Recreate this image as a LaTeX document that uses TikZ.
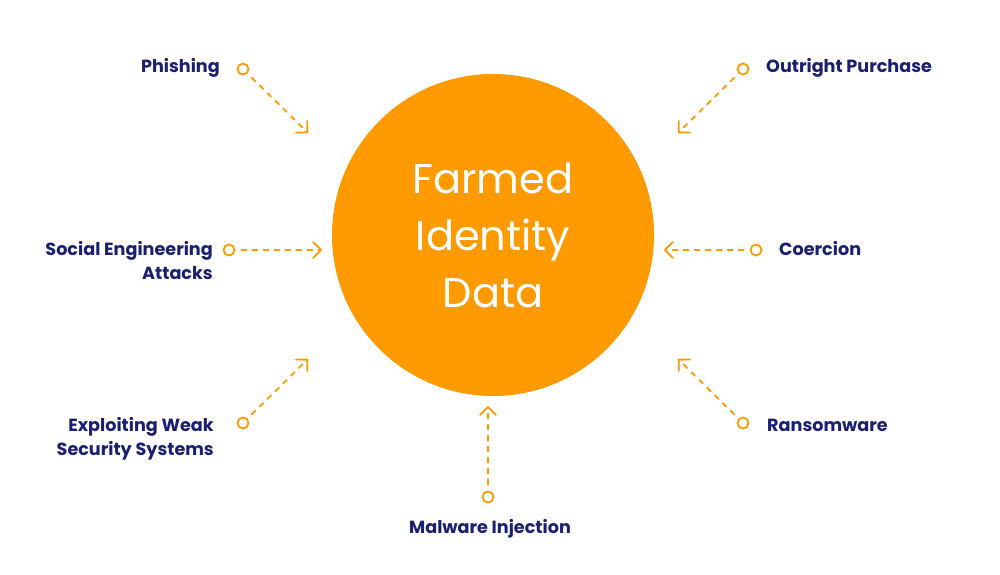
\documentclass[tikz,border=0pt]{standalone}
\usepackage{fontspec}
\setmainfont{Poppins}
\usetikzlibrary{arrows.meta}
\definecolor{farmorange}{HTML}{FF9B00}
\definecolor{farmnavy}{HTML}{1A1F71}
\tikzset{
  lbl/.style={font=\fontsize{17.6}{24}\selectfont\bfseries, text=farmnavy, inner sep=0pt, align=#1},
  lbl/.default=left,
  dot/.style={circle, draw=farmorange, line width=1.8pt, minimum size=11pt, inner sep=0pt},
  feed/.style={draw=farmorange, line width=1.8pt, dash pattern=on 5pt off 6pt, line cap=round,
    shorten <=6pt, -{Straight Barb[angle=90:9.5pt 1, line width=1.8pt, round]}},
}
\begin{document}
\begin{tikzpicture}[x=1pt,y=-1pt]
\useasboundingbox (0,0) rectangle (1000,574);
\fill[white] (0,0) rectangle (1000,574);
% central circle
\node[circle, fill=farmorange, minimum size=322pt, inner sep=0pt] (core) at (493,235) {};
\node[text=white, font=\fontsize{41.5}{57}\selectfont, align=center, inner sep=0pt, anchor=base] (coretext) at (493,307) {Farmed\\Identity\\Data};
% small circles
\node[dot] (d1) at (243,69) {};
\node[dot] (d2) at (743,69) {};
\node[dot] (d3) at (229,250) {};
\node[dot] (d4) at (756,250) {};
\node[dot] (d5) at (243,423) {};
\node[dot] (d6) at (743,423) {};
\node[dot] (d7) at (488,497) {};
% tips
\coordinate (t1) at (308,133);
\coordinate (t2) at (678,133);
\coordinate (t3) at (322,250);
\coordinate (t4) at (664,250);
\coordinate (t5) at (308,359);
\coordinate (t6) at (678,359);
\coordinate (t7) at (488,406);
\draw[feed] (d1) -- (t1);
\draw[feed] (d2) -- (t2);
\draw[feed] (d3) -- (t3);
\draw[feed] (d4) -- (t4);
\draw[feed] (d5) -- (t5);
\draw[feed] (d6) -- (t6);
\draw[feed] (d7) -- (t7);
% labels
\node[lbl=right, anchor=base east] (l1) at (220,72) {Phishing};
\node[lbl=left, anchor=base west] (l2) at (766,72) {Outright Purchase};
\node[lbl=right, anchor=base east] (l3) at (213,279) {Social Engineering\\Attacks};
\node[lbl=left, anchor=base west] (l4) at (779,255) {Coercion};
\node[lbl=right, anchor=base east] (l5) at (214,455) {Exploiting Weak\\Security Systems};
\node[lbl=left, anchor=base west] (l6) at (767,431) {Ransomware};
\node[lbl=center, anchor=base] (l7) at (490,533) {Malware Injection};
\end{tikzpicture}
\end{document}
